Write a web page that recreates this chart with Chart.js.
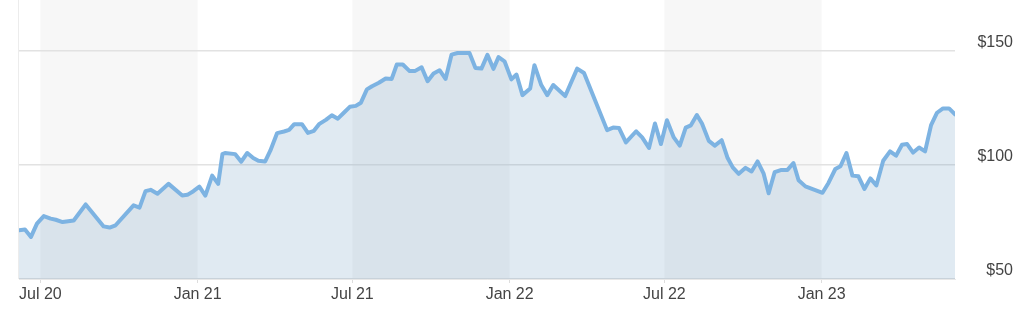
<!DOCTYPE html>
<html>
<head>
<meta charset="utf-8">
<script src="https://cdn.jsdelivr.net/npm/chart.js@4/dist/chart.umd.min.js"></script>
<style>
  html, body { margin: 0; padding: 0; background: #fff; }
  #wrap { width: 1024px; height: 309px; }
</style>
</head>
<body>
<div id="wrap"><canvas id="chart"></canvas></div>
<script>
// price series (vertices)
var dates = [
    '2020-06-06','2020-06-13','2020-06-20','2020-06-27','2020-07-05','2020-07-13','2020-07-19','2020-07-27',
    '2020-08-09','2020-08-23','2020-09-13','2020-09-20','2020-09-27','2020-10-18','2020-10-25','2020-11-01',
    '2020-11-07','2020-11-15','2020-11-28','2020-12-14','2020-12-20','2020-12-27','2021-01-03','2021-01-10',
    '2021-01-18','2021-01-25','2021-01-30','2021-02-02','2021-02-14','2021-02-21','2021-02-28','2021-03-07',
    '2021-03-13','2021-03-21','2021-03-27','2021-04-04','2021-04-12','2021-04-18','2021-04-24','2021-05-03',
    '2021-05-10','2021-05-17','2021-05-23','2021-05-31','2021-06-07','2021-06-14','2021-06-21','2021-06-28',
    '2021-07-05','2021-07-11','2021-07-18','2021-07-24','2021-08-01','2021-08-09','2021-08-16','2021-08-22',
    '2021-08-29','2021-09-06','2021-09-12','2021-09-20','2021-09-27','2021-10-04','2021-10-11','2021-10-18',
    '2021-10-25','2021-11-01','2021-11-15','2021-11-22','2021-11-29','2021-12-06','2021-12-13','2021-12-19',
    '2021-12-26','2022-01-03','2022-01-09','2022-01-16','2022-01-25','2022-01-30','2022-02-07','2022-02-14',
    '2022-02-21','2022-03-07','2022-03-21','2022-03-29','2022-04-25','2022-05-02','2022-05-09','2022-05-17',
    '2022-05-29','2022-06-05','2022-06-13','2022-06-20','2022-06-27','2022-07-04','2022-07-12','2022-07-19',
    '2022-07-26','2022-08-01','2022-08-08','2022-08-14','2022-08-22','2022-08-29','2022-09-06','2022-09-13',
    '2022-09-19','2022-09-26','2022-10-04','2022-10-11','2022-10-18','2022-10-25','2022-10-31','2022-11-07',
    '2022-11-15','2022-11-22','2022-11-29','2022-12-05','2022-12-13','2023-01-02','2023-01-09','2023-01-17',
    '2023-01-23','2023-01-30','2023-02-06','2023-02-13','2023-02-20','2023-02-27','2023-03-06','2023-03-14',
    '2023-03-22','2023-03-29','2023-04-05','2023-04-11','2023-04-18','2023-04-25','2023-05-02','2023-05-09',
    '2023-05-16','2023-05-23','2023-05-30','2023-06-06'
]
var prices = [
    71.3, 71.6, 68.4, 74.2, 77.5, 76.4, 75.9, 74.9,
    75.6, 82.6, 73.0, 72.5, 73.5, 82.2, 81.2, 88.4,
    89.0, 87.3, 91.6, 86.5, 86.8, 88.4, 90.4, 86.5,
    95.2, 91.6, 104.6, 105.1, 104.6, 101.3, 105.1, 102.9,
    101.7, 101.4, 106.1, 113.8, 114.5, 115.2, 117.7, 117.7,
    113.9, 114.8, 117.7, 119.6, 121.6, 120.1, 122.7, 125.3,
    125.7, 127.1, 132.9, 134.3, 135.8, 137.7, 137.5, 143.8,
    143.8, 140.9, 140.9, 142.6, 136.5, 139.9, 141.3, 137.5,
    148.1, 148.8, 148.8, 142.3, 142.0, 148.0, 141.9, 147.0,
    145.2, 137.3, 139.4, 130.4, 133.3, 143.5, 134.8, 130.4,
    134.8, 130.0, 142.0, 140.1, 115.1, 116.2, 116.0, 109.7,
    114.6, 111.9, 107.3, 118.0, 109.0, 119.4, 111.9, 108.3,
    116.2, 117.2, 121.7, 118.0, 110.4, 108.3, 110.7, 102.9,
    98.8, 96.0, 98.6, 97.0, 101.4, 96.2, 87.5, 96.7,
    97.7, 97.7, 100.7, 93.2, 90.5, 87.7, 92.0, 98.1,
    99.3, 105.1, 95.2, 94.9, 89.4, 94.0, 90.9, 101.7,
    105.8, 103.9, 108.7, 109.0, 105.3, 107.5, 105.8, 117.3,
    122.7, 124.6, 124.6, 122.0
]

var tickDates = ['2020-07-01', '2021-01-01', '2021-07-01', '2022-01-01', '2022-07-01', '2023-01-01']
var tickLabels = ['Jul 20', 'Jan 21', 'Jul 21', 'Jan 22', 'Jul 22', 'Jan 23']
var priceTicks = [50, 100, 150]

// shaded half-years
var bandStarts = ['2020-07-01', '2021-07-01', '2022-07-01']
var bandEnds = ['2021-01-01', '2022-01-01', '2023-01-01']

var points = []
for (var i = 0; i < dates.length; i++) {
    points.push({x: Date.parse(dates[i]), y: prices[i]})
}
var tickValues = tickDates.map(function(d) { return Date.parse(d) })

var bandsPlugin = {
    id: 'bands',
    beforeDraw: function(chart) {
        var ctx = chart.ctx
        var area = chart.chartArea
        var xs = chart.scales.x
        ctx.save()
        ctx.fillStyle = '#f7f7f7'
        for (var i = 0; i < bandStarts.length; i++) {
            var a = xs.getPixelForValue(Date.parse(bandStarts[i]))
            var b = xs.getPixelForValue(Date.parse(bandEnds[i]))
            ctx.fillRect(a, area.top, b - a, area.bottom - area.top)
        }
        // thin left edge
        ctx.fillStyle = '#ececec'
        ctx.fillRect(area.left - 1, area.top, 1, area.bottom - area.top)
        ctx.restore()
    }
}

var lineColor = '#7db3e2'
var labelFont = { family: 'Liberation Sans, Arial, sans-serif', size: 16 }

new Chart(document.getElementById('chart'), {
    type: 'line',
    data: {
        datasets: [{
            data: points,
            borderColor: lineColor,
            borderWidth: 4,
            backgroundColor: 'rgba(100, 150, 190, 0.2)',
            fill: 'start',
            pointRadius: 0,
            tension: 0,
            borderJoinStyle: 'round',
            borderCapStyle: 'round'
        }]
    },
    plugins: [bandsPlugin],
    options: {
        responsive: true,
        maintainAspectRatio: false,
        animation: false,
        layout: { padding: { left: 19, right: 11, top: 0, bottom: 0 } },
        plugins: {
            legend: { display: false },
            tooltip: { enabled: false }
        },
        scales: {
            x: {
                type: 'linear',
                min: points[0].x,
                max: points[points.length - 1].x,
                afterBuildTicks: function(scale) {
                    scale.ticks = tickValues.map(function(v) { return {value: v} })
                },
                afterFit: function(scale) {
                    scale.height = 30
                    scale.paddingLeft = 0
                    scale.paddingRight = 0
                },
                grid: {
                    display: true,
                    drawOnChartArea: false,
                    drawTicks: true,
                    tickLength: 4,
                    color: '#dddddd'
                },
                border: { display: true, color: '#e8e8e8' },
                ticks: {
                    autoSkip: false,
                    maxRotation: 0,
                    padding: 2,
                    color: '#444',
                    font: labelFont,
                    callback: function(value) {
                        var idx = tickValues.indexOf(value)
                        return idx >= 0 ? tickLabels[idx] : ''
                    }
                }
            },
            y: {
                position: 'right',
                min: 50,
                max: 172,
                afterBuildTicks: function(scale) {
                    scale.ticks = priceTicks.map(function(v) { return {value: v} })
                },
                afterFit: function(scale) {
                    scale.width = 58
                    scale.paddingTop = 0
                    scale.paddingBottom = 0
                },
                grid: {
                    color: '#e2e2e2',
                    lineWidth: 1.5,
                    drawTicks: false
                },
                border: { display: false },
                ticks: {
                    crossAlign: 'far',
                    labelOffset: -8,
                    padding: 0,
                    color: '#444',
                    font: labelFont,
                    callback: function(value) { return '$' + value }
                }
            }
        }
    }
});
</script>
</body>
</html>
